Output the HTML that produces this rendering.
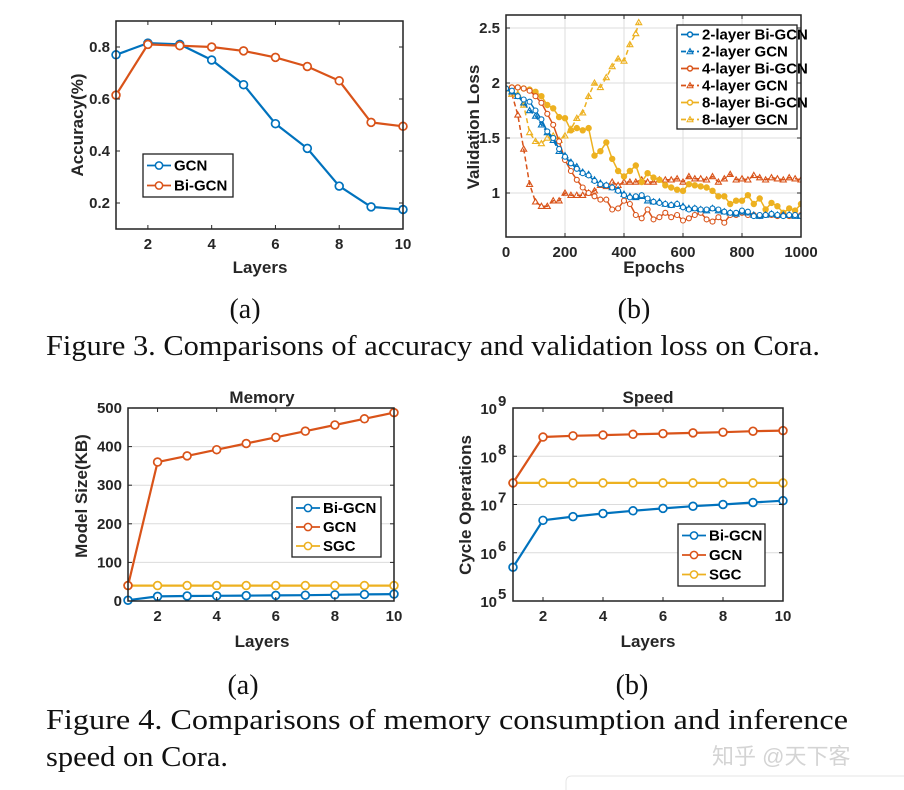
<!DOCTYPE html>
<html><head><meta charset="utf-8"><style>
html,body{margin:0;padding:0;background:#fff;}
svg{display:block;font-family:"Liberation Sans",Arial,sans-serif;}
.tk{font-size:15px;font-weight:bold;fill:#262626;}
.lb{font-size:17px;font-weight:bold;fill:#262626;}
.lg{font-size:15px;font-weight:bold;fill:#000;}
.cap{font-family:"Liberation Serif","Times New Roman",serif;font-size:28px;fill:#111;}
</style></head><body>
<svg id="fig" width="904" height="790" viewBox="0 0 904 790" xmlns="http://www.w3.org/2000/svg">
<text class="cap" x="245" y="318" text-anchor="middle" font-size="24">(a)</text>
<text class="cap" x="634" y="318" text-anchor="middle" font-size="24">(b)</text>
<text class="cap" x="46" y="355" textLength="774" lengthAdjust="spacingAndGlyphs">Figure 3. Comparisons of accuracy and validation loss on Cora.</text>
<text class="cap" x="243" y="694" text-anchor="middle" font-size="24">(a)</text>
<text class="cap" x="632" y="694" text-anchor="middle" font-size="24">(b)</text>
<text class="cap" x="46" y="729" textLength="802" lengthAdjust="spacingAndGlyphs">Figure 4. Comparisons of memory consumption and inference</text>
<text class="cap" x="46" y="766" textLength="182" lengthAdjust="spacingAndGlyphs">speed on Cora.</text>
<text x="712" y="764" font-size="22" fill="#d4d4d4" font-family="'Liberation Sans','Noto Sans CJK SC',sans-serif">知乎 @天下客</text>
<path d="M566 790 L566 782 Q566 776 572 776 L904 776" fill="none" stroke="#e6e6e6"/>
</svg>
<script>
// ---- Chart 3a data ----
const accLayers = [1,2,3,4,5,6,7,8,9,10];
const accGCN = [0.77,0.815,0.81,0.75,0.655,0.505,0.41,0.265,0.185,0.175];
const accBiGCN = [0.615,0.81,0.805,0.8,0.785,0.76,0.725,0.67,0.51,0.495];
const accYTicks = [0.2,0.4,0.6,0.8];
const accXTicks = [2,4,6,8,10];
// ---- Chart 3b data ----
const epochs = [0,20,40,60,80,100,120,140,160,180,200,220,240,260,280,300,320,340,360,380,400,420,440,460,480,500,520,540,560,580,600,620,640,660,680,700,720,740,760,780,800,820,840,860,880,900,920,940,960,980,1000];
const loss2Bi = [1.95,1.93,1.88,1.85,1.83,1.75,1.67,1.56,1.5,1.4,1.33,1.27,1.22,1.18,1.16,1.11,1.08,1.07,1.05,1.02,0.98,0.96,0.97,0.98,0.95,0.92,0.91,0.9,0.89,0.9,0.87,0.85,0.86,0.85,0.85,0.86,0.85,0.83,0.82,0.82,0.84,0.83,0.79,0.8,0.8,0.81,0.8,0.79,0.8,0.8,0.79];
const loss2GCN = [1.95,1.92,1.88,1.82,1.75,1.7,1.62,1.55,1.48,1.38,1.34,1.28,1.24,1.19,1.17,1.12,1.09,1.07,1.05,1.03,0.99,0.97,0.96,0.97,0.93,0.92,0.92,0.9,0.89,0.9,0.88,0.86,0.86,0.85,0.84,0.86,0.84,0.83,0.82,0.81,0.83,0.82,0.8,0.79,0.8,0.81,0.8,0.8,0.8,0.79,0.79];
const loss4Bi = [1.95,1.96,1.96,1.95,1.93,1.88,1.82,1.72,1.62,1.47,1.3,1.2,1.12,1.05,1.0,0.97,0.94,0.94,0.85,0.86,0.93,0.9,0.8,0.77,0.85,0.76,0.78,0.82,0.78,0.8,0.75,0.77,0.8,0.82,0.76,0.74,0.78,0.73,0.8,0.8,0.82,0.8,0.8,0.79,0.8,0.8,0.79,0.8,0.79,0.8,0.8];
const loss4GCN = [1.95,1.9,1.71,1.4,1.08,0.92,0.88,0.88,0.93,0.93,1.0,0.98,0.98,0.98,1.0,1.02,1.07,1.06,1.1,1.07,1.1,1.1,1.1,1.12,1.1,1.1,1.12,1.12,1.12,1.13,1.1,1.15,1.13,1.13,1.12,1.15,1.1,1.13,1.17,1.12,1.13,1.12,1.16,1.14,1.12,1.14,1.13,1.12,1.14,1.13,1.12];
const loss8Bi = [1.95,1.96,1.96,1.95,1.94,1.92,1.88,1.8,1.77,1.69,1.68,1.57,1.59,1.57,1.59,1.34,1.38,1.46,1.31,1.2,1.15,1.2,1.25,1.1,1.18,1.14,1.12,1.07,1.05,1.03,1.02,1.08,1.07,1.06,1.05,1.02,0.97,0.97,0.9,0.93,0.93,0.98,0.9,0.95,0.85,0.91,0.88,0.82,0.86,0.84,0.9];
const epochs8GCN = [0,20,40,60,80,100,120,140,160,180,200,220,240,260,280,300,320,340,360,380,400,420,440,450];
const loss8GCN = [1.95,1.9,1.9,1.8,1.55,1.47,1.45,1.5,1.52,1.48,1.52,1.58,1.68,1.73,1.88,2.0,1.96,2.05,2.15,2.22,2.2,2.35,2.45,2.55];
const lossYTicks = [1,1.5,2,2.5];
const lossYLabels = ["1","1.5","2","2.5"];
const epochXTicks = [0,200,400,600,800,1000];
// ---- Chart 4a data ----
const memLayers = [1,2,3,4,5,6,7,8,9,10];
const memBiGCN = [2,12,13,13.5,14,14.5,15,16,17,18];
const memGCN = [40,360,376,392,408,424,440,456,472,488];
const memSGC = [40,40,40,40,40,40,40,40,40,40];
const memYTicks = [0,100,200,300,400,500];
// ---- Chart 4b data ----
const spdBiGCN = [5e5,4.7e6,5.6e6,6.5e6,7.4e6,8.3e6,9.2e6,1.0e7,1.1e7,1.2e7];
const spdGCN = [2.8e7,2.5e8,2.65e8,2.75e8,2.85e8,2.95e8,3.05e8,3.15e8,3.3e8,3.4e8];
const spdSGC = [2.8e7,2.8e7,2.8e7,2.8e7,2.8e7,2.8e7,2.8e7,2.8e7,2.8e7,2.8e7];
const spdYExp = [5,6,7,8,9];

const BLUE="#0072BD", ORANGE="#D95319", YELLOW="#EDB120";
const NS="http://www.w3.org/2000/svg";
const svg=document.getElementById('fig');
function mk(tag,attrs,parent){const e=document.createElementNS(NS,tag);for(const k in attrs)e.setAttribute(k,attrs[k]);(parent||svg).appendChild(e);return e;}

function axes(P,name){
  const g=mk('g',{});
  
  
  return g;
}
function frame(g,P){
  const r=mk('rect',{x:P.l,y:P.t,width:P.r-P.l,height:P.b-P.t,fill:'none',stroke:'#202020','stroke-width':1.5},g);
  
  
}
function series(g,xs,ys,sx,sy,color,marker,dashed,name){
  const sg=mk('g',{},g);
  
  
  let d='';
  xs.forEach((x,i)=>{d+=(i?'L':'M')+sx(x).toFixed(1)+' '+sy(ys[i]).toFixed(1);});
  mk('path',{d:d,fill:'none',stroke:color,'stroke-width':marker==='big'?2.2:1.5,'stroke-dasharray':dashed?'5 3':'none'},sg);
  xs.forEach((x,i)=>{
    const cx=sx(x),cy=sy(ys[i]);
    let m;
    if(marker==='tri') m=mk('path',{d:`M${cx} ${cy-3}L${cx+3} ${cy+2.2}L${cx-3} ${cy+2.2}Z`,fill:'none',stroke:color,'stroke-width':1.1},sg);
    else if(marker==='fill') m=mk('circle',{cx:cx,cy:cy,r:2.8,fill:color,stroke:color,'stroke-width':0.8},sg);
    else m=mk('circle',{cx:cx,cy:cy,r:marker==='big'?3.9:2.5,fill:'#fff',stroke:color,'stroke-width':marker==='big'?1.7:1.1},sg);
    
    
  });
}
function xTicks(g,P,ticks,sx,labels,fs){
  ticks.forEach((t,i)=>{
    const x=sx(t);
    mk('line',{x1:x,y1:P.b,x2:x,y2:P.b-4,stroke:'#262626'},g);
    mk('line',{x1:x,y1:P.t,x2:x,y2:P.t+4,stroke:'#262626'},g);
    const tx=mk('text',{x:x,y:P.b+20,'text-anchor':'middle',class:'tk','font-size':fs||15},g);
    tx.textContent=labels?labels[i]:String(t);
    
    
  });
}
function yTicks(g,P,ticks,sy,labels,fs){
  ticks.forEach((t,i)=>{
    const y=sy(t);
    mk('line',{x1:P.l,y1:y,x2:P.l+4,y2:y,stroke:'#262626'},g);
    mk('line',{x1:P.r,y1:y,x2:P.r-4,y2:y,stroke:'#262626'},g);
    const tx=mk('text',{x:P.l-6,y:y+5,'text-anchor':'end',class:'tk','font-size':fs||15},g);
    tx.textContent=labels?labels[i]:String(t);
    
    
  });
}
function label(g,text,x,y,rot,name,fs){
  const t=mk('text',{x:x,y:y,'text-anchor':'middle',class:'lb','font-size':fs||17,transform:rot?`rotate(-90 ${x} ${y})`:''},g);
  t.textContent=text;
  
  
}
function legend(g,x,y,w,h,items,rowH,fs,lineLen,name){
  const lg=mk('g',{},g);
  
  
  mk('rect',{x:x,y:y,width:w,height:h,fill:'#fff',stroke:'#202020','stroke-width':1.3},lg);
  items.forEach((it,i)=>{
    const cy=y+rowH*(i+0.5)+(h-rowH*items.length)/2;
    mk('line',{x1:x+4,y1:cy,x2:x+4+lineLen,y2:cy,stroke:it.c,'stroke-width':1.8,'stroke-dasharray':it.dash?'5 3':'none'},lg);
    const cx=x+4+lineLen/2;
    if(it.m==='tri') mk('path',{d:`M${cx} ${cy-3}L${cx+3} ${cy+2.2}L${cx-3} ${cy+2.2}Z`,fill:'none',stroke:it.c},lg);
    else mk('circle',{cx:cx,cy:cy,r:it.m==='big'?3.6:2.5,fill:'#fff',stroke:it.c,'stroke-width':1.5},lg);
    const t=mk('text',{x:x+lineLen+7,y:cy+5,class:'lg','font-size':fs},lg);
    t.textContent=it.t;
    const en=lg.lastChild;
    
    
  });
}

// ---- Chart 3a ----
(function(){
  const P={l:116,r:403,t:21,b:229};
  const sx=v=>P.l+(v-1)/9*(P.r-P.l), sy=v=>P.b-(v-0.1)/0.8*(P.b-P.t);
  const g=axes(P,'accuracy-chart');
  series(g,accLayers,accGCN,sx,sy,BLUE,'big',false,'gcn-accuracy-line');
  series(g,accLayers,accBiGCN,sx,sy,ORANGE,'big',false,'bigcn-accuracy-line');
  frame(g,P);
  xTicks(g,P,accXTicks,sx);
  yTicks(g,P,accYTicks,sy,accYTicks.map(v=>v.toFixed(1)));
  label(g,'Layers',260,273,false,'x-axis-title');
  label(g,'Accuracy(%)',83,125,true,'y-axis-title');
  legend(g,143,154,90,43,[{t:'GCN',c:BLUE,m:'big'},{t:'Bi-GCN',c:ORANGE,m:'big'}],20,15.5,24,'accuracy-legend');
})();

// ---- Chart 3b ----
(function(){
  const P={l:506,r:801,t:15,b:237};
  const sx=v=>P.l+v/1000*(P.r-P.l), sy=v=>193-(v-1)*110;
  const g=axes(P,'validation-loss-chart');
  const grid=mk('g',{},g);
  
  
  epochXTicks.forEach(t=>mk('line',{x1:sx(t),y1:P.t,x2:sx(t),y2:P.b,stroke:'#dedede'},grid));
  lossYTicks.forEach(t=>mk('line',{x1:P.l,y1:sy(t),x2:P.r,y2:sy(t),stroke:'#dedede'},grid));
  const cl=mk('clipPath',{id:'clipb'},g);
  mk('rect',{x:P.l,y:P.t,width:P.r-P.l,height:P.b-P.t},cl);
  const inner=mk('g',{'clip-path':'url(#clipb)'},g);
  
  
  series(inner,epochs,loss4GCN,sx,sy,ORANGE,'tri',true,'loss-4layer-gcn');
  series(inner,epochs8GCN,loss8GCN,sx,sy,YELLOW,'tri',true,'loss-8layer-gcn');
  series(inner,epochs,loss8Bi,sx,sy,YELLOW,'fill',false,'loss-8layer-bigcn');
  series(inner,epochs,loss4Bi,sx,sy,ORANGE,'o',false,'loss-4layer-bigcn');
  series(inner,epochs,loss2GCN,sx,sy,BLUE,'tri',true,'loss-2layer-gcn');
  series(inner,epochs,loss2Bi,sx,sy,BLUE,'o',false,'loss-2layer-bigcn');
  frame(g,P);
  xTicks(g,P,epochXTicks,sx,null,13.5);
  yTicks(g,P,lossYTicks,sy,lossYLabels,13.5);
  label(g,'Epochs',654,273,false,'x-axis-title',15);
  label(g,'Validation Loss',479,127,true,'y-axis-title',15);
  legend(g,677,25,120,104,[
    {t:'2-layer Bi-GCN',c:BLUE,m:'o'},{t:'2-layer GCN',c:BLUE,m:'tri',dash:true},
    {t:'4-layer Bi-GCN',c:ORANGE,m:'o'},{t:'4-layer GCN',c:ORANGE,m:'tri',dash:true},
    {t:'8-layer Bi-GCN',c:YELLOW,m:'o'},{t:'8-layer GCN',c:YELLOW,m:'tri',dash:true}],17,12,18,'loss-legend');
})();

// ---- Chart 4a ----
(function(){
  const P={l:128,r:394,t:408,b:601};
  const sx=v=>P.l+(v-1)/9*(P.r-P.l), sy=v=>P.b-v/500*(P.b-P.t);
  const g=axes(P,'memory-chart');
  memYTicks.forEach(t=>mk('line',{x1:P.l,y1:sy(t),x2:P.r,y2:sy(t),stroke:'#dcdcdc'},g));
  series(g,memLayers,memSGC,sx,sy,YELLOW,'big',false,'sgc-memory-line');
  series(g,memLayers,memGCN,sx,sy,ORANGE,'big',false,'gcn-memory-line');
  series(g,memLayers,memBiGCN,sx,sy,BLUE,'big',false,'bigcn-memory-line');
  frame(g,P);
  xTicks(g,P,accXTicks,sx);
  yTicks(g,P,memYTicks,sy);
  label(g,'Memory',262,403,false,'chart-title');
  label(g,'Layers',262,647,false,'x-axis-title');
  label(g,'Model Size(KB)',87,496,true,'y-axis-title');
  legend(g,292,497,89,60,[{t:'Bi-GCN',c:BLUE,m:'big'},{t:'GCN',c:ORANGE,m:'big'},{t:'SGC',c:YELLOW,m:'big'}],19,15,24,'memory-legend');
})();

// ---- Chart 4b ----
(function(){
  const P={l:513,r:783,t:408,b:601};
  const sx=v=>P.l+(v-1)/9*(P.r-P.l), sy=v=>P.b-(Math.log10(v)-5)/4*(P.b-P.t);
  const g=axes(P,'speed-chart');
  spdYExp.forEach(e=>mk('line',{x1:P.l,y1:sy(Math.pow(10,e)),x2:P.r,y2:sy(Math.pow(10,e)),stroke:'#dcdcdc'},g));
  series(g,memLayers,spdSGC,sx,sy,YELLOW,'big',false,'sgc-speed-line');
  series(g,memLayers,spdGCN,sx,sy,ORANGE,'big',false,'gcn-speed-line');
  series(g,memLayers,spdBiGCN,sx,sy,BLUE,'big',false,'bigcn-speed-line');
  frame(g,P);
  xTicks(g,P,accXTicks,sx);
  spdYExp.forEach(e=>{
    const y=sy(Math.pow(10,e));
    mk('line',{x1:P.l,y1:y,x2:P.l+4,y2:y,stroke:'#262626'},g);
    mk('line',{x1:P.r,y1:y,x2:P.r-4,y2:y,stroke:'#262626'},g);
    const t=mk('text',{x:P.l-16,y:y+6,'text-anchor':'end',class:'tk','font-size':16},g);
    t.textContent='10';
    
    
    const s=mk('text',{x:P.l-15,y:y-2,class:'tk','font-size':12},g);
    s.textContent=String(e);
    
    
  });
  label(g,'Speed',648,403,false,'chart-title');
  label(g,'Layers',648,647,false,'x-axis-title');
  label(g,'Cycle Operations',471,505,true,'y-axis-title');
  legend(g,678,524,87,62,[{t:'Bi-GCN',c:BLUE,m:'big'},{t:'GCN',c:ORANGE,m:'big'},{t:'SGC',c:YELLOW,m:'big'}],19.5,15,24,'speed-legend');
})();
</script>
</body></html>
